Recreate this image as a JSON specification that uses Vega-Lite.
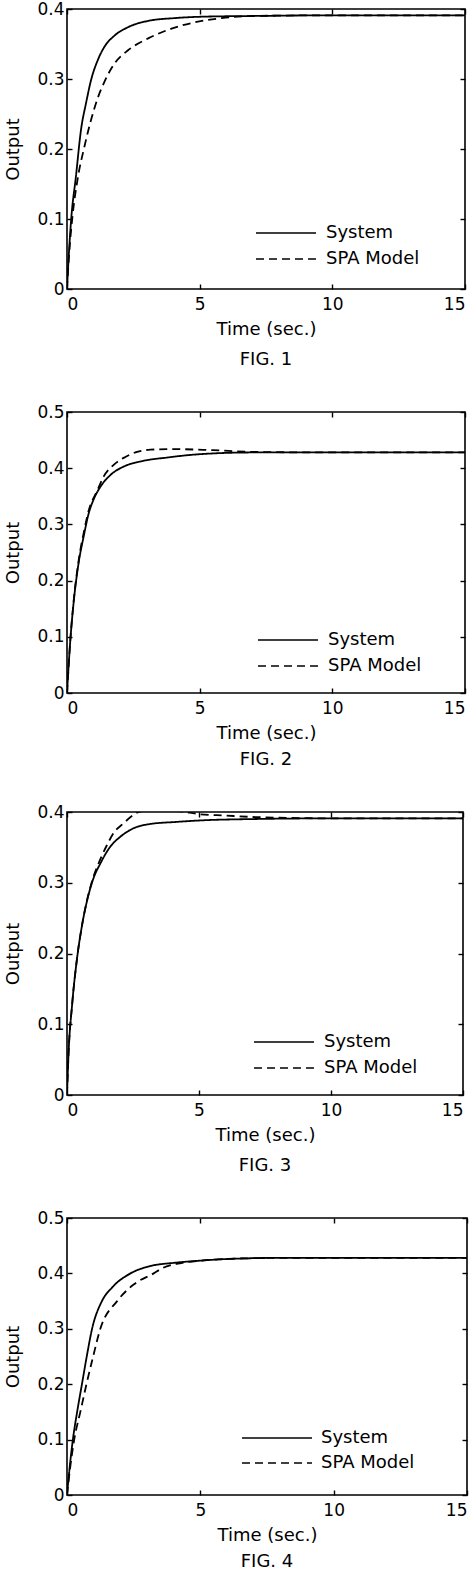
{
  "$schema": "https://vega.github.io/schema/vega-lite/v6.json",
  "background": "white",
  "padding": {"left": 4, "top": -1, "right": 5, "bottom": 0},
  "spacing": 32,
  "resolve": {"scale": {"strokeDash": "independent"}, "legend": {"strokeDash": "independent"}},
  "config": {
    "view": {"stroke": "black", "strokeWidth": 1.6},
    "font": "DejaVu Sans",
    "axis": {"grid": false, "domain": false, "labelFont": "DejaVu Sans", "labelFontSize": 17, "labelColor": "black", "titleFont": "DejaVu Sans", "titleFontSize": 18, "titleFontWeight": "normal", "titleColor": "black", "tickColor": "black", "tickWidth": 1.4, "tickSize": -5},
    "axisX": {"labelPadding": 12, "titlePadding": 8},
    "axisY": {"labelPadding": 8, "titlePadding": 14},
    "legend": {"title": null, "symbolType": "M-6,0H6", "symbolSize": 100, "symbolStrokeWidth": 1.6, "symbolStrokeColor": "black", "labelFont": "DejaVu Sans", "labelFontSize": 18, "labelColor": "black", "labelOffset": 31, "rowPadding": 8},
    "title": {"font": "DejaVu Sans", "fontSize": 18, "fontWeight": "normal", "color": "black"}
  },
  "datasets": {
    "curves": [
      {"fig": 1, "series": "System", "t": 0, "y": 0},
      {"fig": 1, "series": "System", "t": 0.07, "y": 0.05},
      {"fig": 1, "series": "System", "t": 0.15, "y": 0.096},
      {"fig": 1, "series": "System", "t": 0.34, "y": 0.162},
      {"fig": 1, "series": "System", "t": 0.53, "y": 0.228},
      {"fig": 1, "series": "System", "t": 0.72, "y": 0.266},
      {"fig": 1, "series": "System", "t": 0.91, "y": 0.299},
      {"fig": 1, "series": "System", "t": 1.16, "y": 0.327},
      {"fig": 1, "series": "System", "t": 1.41, "y": 0.346},
      {"fig": 1, "series": "System", "t": 1.79, "y": 0.362},
      {"fig": 1, "series": "System", "t": 2.3, "y": 0.374},
      {"fig": 1, "series": "System", "t": 3.06, "y": 0.383},
      {"fig": 1, "series": "System", "t": 4.06, "y": 0.387},
      {"fig": 1, "series": "System", "t": 5.08, "y": 0.389},
      {"fig": 1, "series": "System", "t": 7, "y": 0.39},
      {"fig": 1, "series": "System", "t": 10, "y": 0.391},
      {"fig": 1, "series": "System", "t": 15, "y": 0.391},
      {"fig": 1, "series": "SPA Model", "t": 0, "y": 0},
      {"fig": 1, "series": "SPA Model", "t": 0.08, "y": 0.05},
      {"fig": 1, "series": "SPA Model", "t": 0.21, "y": 0.105},
      {"fig": 1, "series": "SPA Model", "t": 0.4, "y": 0.157},
      {"fig": 1, "series": "SPA Model", "t": 0.66, "y": 0.204},
      {"fig": 1, "series": "SPA Model", "t": 0.91, "y": 0.242},
      {"fig": 1, "series": "SPA Model", "t": 1.16, "y": 0.273},
      {"fig": 1, "series": "SPA Model", "t": 1.41, "y": 0.296},
      {"fig": 1, "series": "SPA Model", "t": 1.79, "y": 0.322},
      {"fig": 1, "series": "SPA Model", "t": 2.3, "y": 0.341},
      {"fig": 1, "series": "SPA Model", "t": 3.06, "y": 0.358},
      {"fig": 1, "series": "SPA Model", "t": 3.94, "y": 0.372},
      {"fig": 1, "series": "SPA Model", "t": 4.82, "y": 0.381},
      {"fig": 1, "series": "SPA Model", "t": 5.83, "y": 0.387},
      {"fig": 1, "series": "SPA Model", "t": 7, "y": 0.39},
      {"fig": 1, "series": "SPA Model", "t": 10, "y": 0.391},
      {"fig": 1, "series": "SPA Model", "t": 15, "y": 0.391},

      {"fig": 2, "series": "System", "t": 0, "y": 0},
      {"fig": 2, "series": "System", "t": 0.13, "y": 0.097},
      {"fig": 2, "series": "System", "t": 0.25, "y": 0.161},
      {"fig": 2, "series": "System", "t": 0.44, "y": 0.232},
      {"fig": 2, "series": "System", "t": 0.63, "y": 0.279},
      {"fig": 2, "series": "System", "t": 0.82, "y": 0.32},
      {"fig": 2, "series": "System", "t": 1.0, "y": 0.344},
      {"fig": 2, "series": "System", "t": 1.26, "y": 0.367},
      {"fig": 2, "series": "System", "t": 1.64, "y": 0.388},
      {"fig": 2, "series": "System", "t": 2.14, "y": 0.403},
      {"fig": 2, "series": "System", "t": 2.77, "y": 0.412},
      {"fig": 2, "series": "System", "t": 3.77, "y": 0.419},
      {"fig": 2, "series": "System", "t": 5.03, "y": 0.425},
      {"fig": 2, "series": "System", "t": 7, "y": 0.428},
      {"fig": 2, "series": "System", "t": 10, "y": 0.428},
      {"fig": 2, "series": "System", "t": 15, "y": 0.428},
      {"fig": 2, "series": "SPA Model", "t": 0, "y": 0},
      {"fig": 2, "series": "SPA Model", "t": 0.13, "y": 0.097},
      {"fig": 2, "series": "SPA Model", "t": 0.25, "y": 0.163},
      {"fig": 2, "series": "SPA Model", "t": 0.44, "y": 0.236},
      {"fig": 2, "series": "SPA Model", "t": 0.63, "y": 0.285},
      {"fig": 2, "series": "SPA Model", "t": 0.82, "y": 0.325},
      {"fig": 2, "series": "SPA Model", "t": 1.13, "y": 0.359},
      {"fig": 2, "series": "SPA Model", "t": 1.38, "y": 0.385},
      {"fig": 2, "series": "SPA Model", "t": 1.76, "y": 0.406},
      {"fig": 2, "series": "SPA Model", "t": 2.2, "y": 0.42},
      {"fig": 2, "series": "SPA Model", "t": 2.64, "y": 0.429},
      {"fig": 2, "series": "SPA Model", "t": 3.14, "y": 0.433},
      {"fig": 2, "series": "SPA Model", "t": 4, "y": 0.434},
      {"fig": 2, "series": "SPA Model", "t": 5.5, "y": 0.432},
      {"fig": 2, "series": "SPA Model", "t": 7, "y": 0.429},
      {"fig": 2, "series": "SPA Model", "t": 10, "y": 0.428},
      {"fig": 2, "series": "SPA Model", "t": 15, "y": 0.428},

      {"fig": 3, "series": "System", "t": 0, "y": 0},
      {"fig": 3, "series": "System", "t": 0.06, "y": 0.06},
      {"fig": 3, "series": "System", "t": 0.19, "y": 0.126},
      {"fig": 3, "series": "System", "t": 0.38, "y": 0.193},
      {"fig": 3, "series": "System", "t": 0.57, "y": 0.24},
      {"fig": 3, "series": "System", "t": 0.75, "y": 0.273},
      {"fig": 3, "series": "System", "t": 1.0, "y": 0.306},
      {"fig": 3, "series": "System", "t": 1.26, "y": 0.327},
      {"fig": 3, "series": "System", "t": 1.64, "y": 0.351},
      {"fig": 3, "series": "System", "t": 2.02, "y": 0.365},
      {"fig": 3, "series": "System", "t": 2.52, "y": 0.377},
      {"fig": 3, "series": "System", "t": 3.14, "y": 0.383},
      {"fig": 3, "series": "System", "t": 4.15, "y": 0.386},
      {"fig": 3, "series": "System", "t": 5, "y": 0.388},
      {"fig": 3, "series": "System", "t": 7, "y": 0.39},
      {"fig": 3, "series": "System", "t": 10, "y": 0.391},
      {"fig": 3, "series": "System", "t": 15, "y": 0.391},
      {"fig": 3, "series": "SPA Model", "t": 0, "y": 0},
      {"fig": 3, "series": "SPA Model", "t": 0.06, "y": 0.06},
      {"fig": 3, "series": "SPA Model", "t": 0.19, "y": 0.126},
      {"fig": 3, "series": "SPA Model", "t": 0.38, "y": 0.193},
      {"fig": 3, "series": "SPA Model", "t": 0.57, "y": 0.24},
      {"fig": 3, "series": "SPA Model", "t": 0.75, "y": 0.274},
      {"fig": 3, "series": "SPA Model", "t": 1.0, "y": 0.308},
      {"fig": 3, "series": "SPA Model", "t": 1.26, "y": 0.333},
      {"fig": 3, "series": "SPA Model", "t": 1.51, "y": 0.353},
      {"fig": 3, "series": "SPA Model", "t": 1.76, "y": 0.37},
      {"fig": 3, "series": "SPA Model", "t": 2.14, "y": 0.384},
      {"fig": 3, "series": "SPA Model", "t": 2.52, "y": 0.396},
      {"fig": 3, "series": "SPA Model", "t": 2.8, "y": 0.401},
      {"fig": 3, "series": "SPA Model", "t": 3.5, "y": 0.403},
      {"fig": 3, "series": "SPA Model", "t": 4.3, "y": 0.401},
      {"fig": 3, "series": "SPA Model", "t": 5, "y": 0.397},
      {"fig": 3, "series": "SPA Model", "t": 6, "y": 0.395},
      {"fig": 3, "series": "SPA Model", "t": 7, "y": 0.393},
      {"fig": 3, "series": "SPA Model", "t": 8, "y": 0.392},
      {"fig": 3, "series": "SPA Model", "t": 10, "y": 0.391},
      {"fig": 3, "series": "SPA Model", "t": 15, "y": 0.391},

      {"fig": 4, "series": "System", "t": 0, "y": 0},
      {"fig": 4, "series": "System", "t": 0.1, "y": 0.05},
      {"fig": 4, "series": "System", "t": 0.22, "y": 0.1},
      {"fig": 4, "series": "System", "t": 0.38, "y": 0.15},
      {"fig": 4, "series": "System", "t": 0.56, "y": 0.2},
      {"fig": 4, "series": "System", "t": 0.74, "y": 0.25},
      {"fig": 4, "series": "System", "t": 0.94, "y": 0.3},
      {"fig": 4, "series": "System", "t": 1.31, "y": 0.35},
      {"fig": 4, "series": "System", "t": 1.7, "y": 0.375},
      {"fig": 4, "series": "System", "t": 2.38, "y": 0.4},
      {"fig": 4, "series": "System", "t": 3.1, "y": 0.413},
      {"fig": 4, "series": "System", "t": 4, "y": 0.419},
      {"fig": 4, "series": "System", "t": 5, "y": 0.423},
      {"fig": 4, "series": "System", "t": 6, "y": 0.426},
      {"fig": 4, "series": "System", "t": 8, "y": 0.428},
      {"fig": 4, "series": "System", "t": 15, "y": 0.428},
      {"fig": 4, "series": "SPA Model", "t": 0, "y": 0},
      {"fig": 4, "series": "SPA Model", "t": 0.12, "y": 0.05},
      {"fig": 4, "series": "SPA Model", "t": 0.27, "y": 0.1},
      {"fig": 4, "series": "SPA Model", "t": 0.5, "y": 0.15},
      {"fig": 4, "series": "SPA Model", "t": 0.73, "y": 0.2},
      {"fig": 4, "series": "SPA Model", "t": 0.98, "y": 0.25},
      {"fig": 4, "series": "SPA Model", "t": 1.25, "y": 0.3},
      {"fig": 4, "series": "SPA Model", "t": 1.88, "y": 0.35},
      {"fig": 4, "series": "SPA Model", "t": 2.5, "y": 0.38},
      {"fig": 4, "series": "SPA Model", "t": 3.25, "y": 0.4},
      {"fig": 4, "series": "SPA Model", "t": 3.6, "y": 0.41},
      {"fig": 4, "series": "SPA Model", "t": 4.1, "y": 0.417},
      {"fig": 4, "series": "SPA Model", "t": 5, "y": 0.423},
      {"fig": 4, "series": "SPA Model", "t": 6, "y": 0.426},
      {"fig": 4, "series": "SPA Model", "t": 8, "y": 0.428},
      {"fig": 4, "series": "SPA Model", "t": 15, "y": 0.428}
    ]
  },
  "vconcat": [
    {
      "width": 398, "height": 280,
      "title": {"text": "FIG. 1", "orient": "bottom", "anchor": "middle", "offset": 13},
      "data": {"name": "curves"},
      "transform": [{"filter": "datum.fig == 1"}],
      "layer": [
        {
          "transform": [{"filter": "datum.series == 'System'"}],
          "mark": {"type": "line", "color": "black", "strokeWidth": 1.8, "interpolate": "monotone", "clip": true},
          "encoding": {
            "x": {"field": "t", "type": "quantitative", "scale": {"domain": [0, 15]}, "axis": {"title": "Time (sec.)", "values": [0, 5, 10, 15]}},
            "y": {"field": "y", "type": "quantitative", "scale": {"domain": [0, 0.4]}, "axis": {"title": "Output", "values": [0, 0.1, 0.2, 0.3, 0.4], "format": ".1~f"}},
            "strokeDash": {"field": "series", "type": "nominal", "scale": {"domain": ["System", "SPA Model"], "range": [[1, 0], [8, 5]]}, "legend": {"orient": "none", "legendX": 210, "legendY": 215}}
          }
        },
        {
          "transform": [{"filter": "datum.series == 'SPA Model'"}],
          "mark": {"type": "line", "color": "black", "strokeWidth": 1.8, "interpolate": "monotone", "clip": true},
          "encoding": {
            "x": {"field": "t", "type": "quantitative", "scale": {"domain": [0, 15]}, "axis": {"orient": "top", "title": null, "labels": false, "values": [0, 5, 10, 15]}},
            "y": {"field": "y", "type": "quantitative", "scale": {"domain": [0, 0.4]}, "axis": {"orient": "right", "title": null, "labels": false, "values": [0, 0.1, 0.2, 0.3, 0.4]}},
            "strokeDash": {"field": "series", "type": "nominal", "scale": {"domain": ["System", "SPA Model"], "range": [[1, 0], [8, 5]]}, "legend": {"orient": "none", "legendX": 210, "legendY": 215}}
          }
        }
      ],
      "resolve": {"axis": {"x": "independent", "y": "independent"}}
    },
    {
      "width": 398, "height": 281,
      "title": {"text": "FIG. 2", "orient": "bottom", "anchor": "middle", "offset": 9},
      "data": {"name": "curves"},
      "transform": [{"filter": "datum.fig == 2"}],
      "layer": [
        {
          "transform": [{"filter": "datum.series == 'System'"}],
          "mark": {"type": "line", "color": "black", "strokeWidth": 1.8, "interpolate": "monotone", "clip": true},
          "encoding": {
            "x": {"field": "t", "type": "quantitative", "scale": {"domain": [0, 15]}, "axis": {"title": "Time (sec.)", "values": [0, 5, 10, 15]}},
            "y": {"field": "y", "type": "quantitative", "scale": {"domain": [0, 0.5]}, "axis": {"title": "Output", "values": [0, 0.1, 0.2, 0.3, 0.4, 0.5], "format": ".1~f"}},
            "strokeDash": {"field": "series", "type": "nominal", "scale": {"domain": ["System", "SPA Model"], "range": [[1, 0], [8, 5]]}, "legend": {"orient": "none", "legendX": 212, "legendY": 219}}
          }
        },
        {
          "transform": [{"filter": "datum.series == 'SPA Model'"}],
          "mark": {"type": "line", "color": "black", "strokeWidth": 1.8, "interpolate": "monotone", "clip": true},
          "encoding": {
            "x": {"field": "t", "type": "quantitative", "scale": {"domain": [0, 15]}, "axis": {"orient": "top", "title": null, "labels": false, "values": [0, 5, 10, 15]}},
            "y": {"field": "y", "type": "quantitative", "scale": {"domain": [0, 0.5]}, "axis": {"orient": "right", "title": null, "labels": false, "values": [0, 0.1, 0.2, 0.3, 0.4, 0.5]}},
            "strokeDash": {"field": "series", "type": "nominal", "scale": {"domain": ["System", "SPA Model"], "range": [[1, 0], [8, 5]]}, "legend": {"orient": "none", "legendX": 212, "legendY": 219}}
          }
        }
      ],
      "resolve": {"axis": {"x": "independent", "y": "independent"}}
    },
    {
      "width": 396, "height": 283,
      "title": {"text": "FIG. 3", "orient": "bottom", "anchor": "middle", "offset": 13},
      "data": {"name": "curves"},
      "transform": [{"filter": "datum.fig == 3"}],
      "layer": [
        {
          "transform": [{"filter": "datum.series == 'System'"}],
          "mark": {"type": "line", "color": "black", "strokeWidth": 1.8, "interpolate": "monotone", "clip": true},
          "encoding": {
            "x": {"field": "t", "type": "quantitative", "scale": {"domain": [0, 15]}, "axis": {"title": "Time (sec.)", "values": [0, 5, 10, 15]}},
            "y": {"field": "y", "type": "quantitative", "scale": {"domain": [0, 0.4]}, "axis": {"title": "Output", "values": [0, 0.1, 0.2, 0.3, 0.4], "format": ".1~f"}},
            "strokeDash": {"field": "series", "type": "nominal", "scale": {"domain": ["System", "SPA Model"], "range": [[1, 0], [8, 5]]}, "legend": {"orient": "none", "legendX": 208, "legendY": 221}}
          }
        },
        {
          "transform": [{"filter": "datum.series == 'SPA Model'"}],
          "mark": {"type": "line", "color": "black", "strokeWidth": 1.8, "interpolate": "monotone", "clip": true},
          "encoding": {
            "x": {"field": "t", "type": "quantitative", "scale": {"domain": [0, 15]}, "axis": {"orient": "top", "title": null, "labels": false, "values": [0, 5, 10, 15]}},
            "y": {"field": "y", "type": "quantitative", "scale": {"domain": [0, 0.4]}, "axis": {"orient": "right", "title": null, "labels": false, "values": [0, 0.1, 0.2, 0.3, 0.4]}},
            "strokeDash": {"field": "series", "type": "nominal", "scale": {"domain": ["System", "SPA Model"], "range": [[1, 0], [8, 5]]}, "legend": {"orient": "none", "legendX": 208, "legendY": 221}}
          }
        }
      ],
      "resolve": {"axis": {"x": "independent", "y": "independent"}}
    },
    {
      "width": 400, "height": 277,
      "title": {"text": "FIG. 4", "orient": "bottom", "anchor": "middle", "offset": 9},
      "data": {"name": "curves"},
      "transform": [{"filter": "datum.fig == 4"}],
      "layer": [
        {
          "transform": [{"filter": "datum.series == 'System'"}],
          "mark": {"type": "line", "color": "black", "strokeWidth": 1.8, "interpolate": "monotone", "clip": true},
          "encoding": {
            "x": {"field": "t", "type": "quantitative", "scale": {"domain": [0, 15]}, "axis": {"title": "Time (sec.)", "values": [0, 5, 10, 15]}},
            "y": {"field": "y", "type": "quantitative", "scale": {"domain": [0, 0.5]}, "axis": {"title": "Output", "values": [0, 0.1, 0.2, 0.3, 0.4, 0.5], "format": ".1~f"}},
            "strokeDash": {"field": "series", "type": "nominal", "scale": {"domain": ["System", "SPA Model"], "range": [[1, 0], [8, 5]]}, "legend": {"orient": "none", "legendX": 201, "legendY": 211, "symbolSize": 136, "labelOffset": 35, "rowPadding": 7}}
          }
        },
        {
          "transform": [{"filter": "datum.series == 'SPA Model'"}],
          "mark": {"type": "line", "color": "black", "strokeWidth": 1.8, "interpolate": "monotone", "clip": true},
          "encoding": {
            "x": {"field": "t", "type": "quantitative", "scale": {"domain": [0, 15]}, "axis": {"orient": "top", "title": null, "labels": false, "values": [0, 5, 10, 15]}},
            "y": {"field": "y", "type": "quantitative", "scale": {"domain": [0, 0.5]}, "axis": {"orient": "right", "title": null, "labels": false, "values": [0, 0.1, 0.2, 0.3, 0.4, 0.5]}},
            "strokeDash": {"field": "series", "type": "nominal", "scale": {"domain": ["System", "SPA Model"], "range": [[1, 0], [8, 5]]}, "legend": {"orient": "none", "legendX": 201, "legendY": 211, "symbolSize": 136, "labelOffset": 35, "rowPadding": 7}}
          }
        }
      ],
      "resolve": {"axis": {"x": "independent", "y": "independent"}}
    }
  ]
}
